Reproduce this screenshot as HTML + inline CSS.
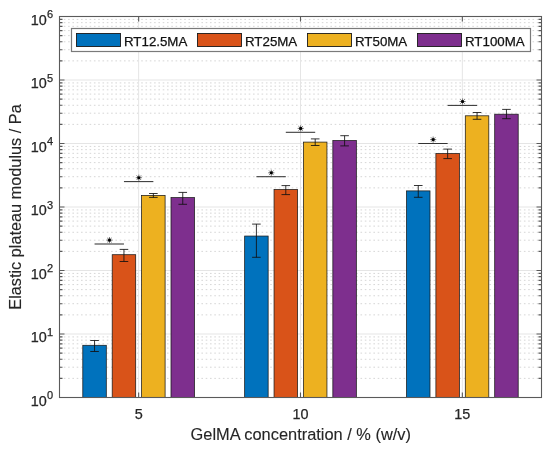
<!DOCTYPE html><html><head><meta charset="utf-8"><style>html,body{margin:0;padding:0;background:#fff;}svg{display:block;will-change:transform;}text{font-family:"Liberation Sans",sans-serif;fill:#262626;stroke:#262626;stroke-width:0.25px;}</style></head><body>
<svg width="550" height="451" viewBox="0 0 550 451">
<rect x="0" y="0" width="550" height="451" fill="#fff"/>
<path d="M59.5 378.38H541.5 M59.5 367.20H541.5 M59.5 359.27H541.5 M59.5 353.12H541.5 M59.5 348.09H541.5 M59.5 343.84H541.5 M59.5 340.15H541.5 M59.5 336.91H541.5 M59.5 314.88H541.5 M59.5 303.70H541.5 M59.5 295.77H541.5 M59.5 289.62H541.5 M59.5 284.59H541.5 M59.5 280.34H541.5 M59.5 276.65H541.5 M59.5 273.41H541.5 M59.5 251.38H541.5 M59.5 240.20H541.5 M59.5 232.27H541.5 M59.5 226.12H541.5 M59.5 221.09H541.5 M59.5 216.84H541.5 M59.5 213.15H541.5 M59.5 209.91H541.5 M59.5 187.88H541.5 M59.5 176.70H541.5 M59.5 168.77H541.5 M59.5 162.62H541.5 M59.5 157.59H541.5 M59.5 153.34H541.5 M59.5 149.65H541.5 M59.5 146.41H541.5 M59.5 124.38H541.5 M59.5 113.20H541.5 M59.5 105.27H541.5 M59.5 99.12H541.5 M59.5 94.09H541.5 M59.5 89.84H541.5 M59.5 86.15H541.5 M59.5 82.91H541.5 M59.5 60.88H541.5 M59.5 49.70H541.5 M59.5 41.77H541.5 M59.5 35.62H541.5 M59.5 30.59H541.5 M59.5 26.34H541.5 M59.5 22.65H541.5 M59.5 19.41H541.5" stroke="#d6d6d6" stroke-width="1" stroke-dasharray="1.6 2.7" fill="none"/>
<path d="M59.5 334.00H541.5 M59.5 270.50H541.5 M59.5 207.00H541.5 M59.5 143.50H541.5 M59.5 80.00H541.5 M138.65 16.5V397.5 M300.50 16.5V397.5 M462.35 16.5V397.5" stroke="#e5e5e5" stroke-width="1" fill="none"/>
<rect x="82.80" y="345.30" width="23.5" height="52.20" fill="#0072BD" stroke="#1a1a1a" stroke-width="0.75"/>
<rect x="112.20" y="254.70" width="23.5" height="142.80" fill="#D95319" stroke="#1a1a1a" stroke-width="0.75"/>
<rect x="141.60" y="195.40" width="23.5" height="202.10" fill="#EDB120" stroke="#1a1a1a" stroke-width="0.75"/>
<rect x="171.00" y="197.60" width="23.5" height="199.90" fill="#7E2F8E" stroke="#1a1a1a" stroke-width="0.75"/>
<rect x="244.65" y="236.05" width="23.5" height="161.45" fill="#0072BD" stroke="#1a1a1a" stroke-width="0.75"/>
<rect x="274.05" y="189.50" width="23.5" height="208.00" fill="#D95319" stroke="#1a1a1a" stroke-width="0.75"/>
<rect x="303.45" y="142.10" width="23.5" height="255.40" fill="#EDB120" stroke="#1a1a1a" stroke-width="0.75"/>
<rect x="332.85" y="140.50" width="23.5" height="257.00" fill="#7E2F8E" stroke="#1a1a1a" stroke-width="0.75"/>
<rect x="406.50" y="190.90" width="23.5" height="206.60" fill="#0072BD" stroke="#1a1a1a" stroke-width="0.75"/>
<rect x="435.90" y="153.50" width="23.5" height="244.00" fill="#D95319" stroke="#1a1a1a" stroke-width="0.75"/>
<rect x="465.30" y="115.80" width="23.5" height="281.70" fill="#EDB120" stroke="#1a1a1a" stroke-width="0.75"/>
<rect x="494.70" y="114.20" width="23.5" height="283.30" fill="#7E2F8E" stroke="#1a1a1a" stroke-width="0.75"/>
<path d="M94.55 340.5V351.5M90.25 340.5H98.85M90.25 351.5H98.85" stroke="#111" stroke-width="0.85" fill="none"/>
<path d="M123.95 249.4V261.5M119.65 249.4H128.25M119.65 261.5H128.25" stroke="#111" stroke-width="0.85" fill="none"/>
<path d="M153.35 193.5V197.4M149.05 193.5H157.65M149.05 197.4H157.65" stroke="#111" stroke-width="0.85" fill="none"/>
<path d="M182.75 192.4V204.3M178.45 192.4H187.05M178.45 204.3H187.05" stroke="#111" stroke-width="0.85" fill="none"/>
<path d="M256.40 224.1V257.3M252.10 224.1H260.70M252.10 257.3H260.70" stroke="#111" stroke-width="0.85" fill="none"/>
<path d="M285.80 185.6V194.6M281.50 185.6H290.10M281.50 194.6H290.10" stroke="#111" stroke-width="0.85" fill="none"/>
<path d="M315.20 138.9V145.5M310.90 138.9H319.50M310.90 145.5H319.50" stroke="#111" stroke-width="0.85" fill="none"/>
<path d="M344.60 135.7V145.9M340.30 135.7H348.90M340.30 145.9H348.90" stroke="#111" stroke-width="0.85" fill="none"/>
<path d="M418.25 185.5V197.3M413.95 185.5H422.55M413.95 197.3H422.55" stroke="#111" stroke-width="0.85" fill="none"/>
<path d="M447.65 149.1V158.6M443.35 149.1H451.95M443.35 158.6H451.95" stroke="#111" stroke-width="0.85" fill="none"/>
<path d="M477.05 112.5V119.3M472.75 112.5H481.35M472.75 119.3H481.35" stroke="#111" stroke-width="0.85" fill="none"/>
<path d="M506.45 109.4V118.7M502.15 109.4H510.75M502.15 118.7H510.75" stroke="#111" stroke-width="0.85" fill="none"/>
<path d="M94.55 244.0H123.95" stroke="#333" stroke-width="1.05" fill="none"/>
<path d="M106.35 240.10H112.55M109.45 237.00V243.20M107.15 237.80L111.75 242.40M107.15 242.40L111.75 237.80" stroke="#333" stroke-width="0.65" fill="none"/><circle cx="109.45" cy="240.10" r="1.55" fill="#000"/>
<path d="M123.95 181.6H153.35" stroke="#333" stroke-width="1.05" fill="none"/>
<path d="M135.75 177.70H141.95M138.85 174.60V180.80M136.55 175.40L141.15 180.00M136.55 180.00L141.15 175.40" stroke="#333" stroke-width="0.65" fill="none"/><circle cx="138.85" cy="177.70" r="1.55" fill="#000"/>
<path d="M256.40 176.7H285.80" stroke="#333" stroke-width="1.05" fill="none"/>
<path d="M268.20 172.80H274.40M271.30 169.70V175.90M269.00 170.50L273.60 175.10M269.00 175.10L273.60 170.50" stroke="#333" stroke-width="0.65" fill="none"/><circle cx="271.30" cy="172.80" r="1.55" fill="#000"/>
<path d="M285.80 132.3H315.20" stroke="#333" stroke-width="1.05" fill="none"/>
<path d="M297.60 128.40H303.80M300.70 125.30V131.50M298.40 126.10L303.00 130.70M298.40 130.70L303.00 126.10" stroke="#333" stroke-width="0.65" fill="none"/><circle cx="300.70" cy="128.40" r="1.55" fill="#000"/>
<path d="M418.25 143.5H447.65" stroke="#333" stroke-width="1.05" fill="none"/>
<path d="M430.05 139.60H436.25M433.15 136.50V142.70M430.85 137.30L435.45 141.90M430.85 141.90L435.45 137.30" stroke="#333" stroke-width="0.65" fill="none"/><circle cx="433.15" cy="139.60" r="1.55" fill="#000"/>
<path d="M447.65 105.4H477.05" stroke="#333" stroke-width="1.05" fill="none"/>
<path d="M459.45 101.50H465.65M462.55 98.40V104.60M460.25 99.20L464.85 103.80M460.25 103.80L464.85 99.20" stroke="#333" stroke-width="0.65" fill="none"/><circle cx="462.55" cy="101.50" r="1.55" fill="#000"/>
<rect x="59.5" y="16.5" width="482.0" height="381.0" fill="none" stroke="#5a5a5a" stroke-width="1.1"/>
<path d="M59.5 397.50h5M541.5 397.50h-5 M59.5 378.38h3M541.5 378.38h-3 M59.5 367.20h3M541.5 367.20h-3 M59.5 359.27h3M541.5 359.27h-3 M59.5 353.12h3M541.5 353.12h-3 M59.5 348.09h3M541.5 348.09h-3 M59.5 343.84h3M541.5 343.84h-3 M59.5 340.15h3M541.5 340.15h-3 M59.5 336.91h3M541.5 336.91h-3 M59.5 334.00h5M541.5 334.00h-5 M59.5 314.88h3M541.5 314.88h-3 M59.5 303.70h3M541.5 303.70h-3 M59.5 295.77h3M541.5 295.77h-3 M59.5 289.62h3M541.5 289.62h-3 M59.5 284.59h3M541.5 284.59h-3 M59.5 280.34h3M541.5 280.34h-3 M59.5 276.65h3M541.5 276.65h-3 M59.5 273.41h3M541.5 273.41h-3 M59.5 270.50h5M541.5 270.50h-5 M59.5 251.38h3M541.5 251.38h-3 M59.5 240.20h3M541.5 240.20h-3 M59.5 232.27h3M541.5 232.27h-3 M59.5 226.12h3M541.5 226.12h-3 M59.5 221.09h3M541.5 221.09h-3 M59.5 216.84h3M541.5 216.84h-3 M59.5 213.15h3M541.5 213.15h-3 M59.5 209.91h3M541.5 209.91h-3 M59.5 207.00h5M541.5 207.00h-5 M59.5 187.88h3M541.5 187.88h-3 M59.5 176.70h3M541.5 176.70h-3 M59.5 168.77h3M541.5 168.77h-3 M59.5 162.62h3M541.5 162.62h-3 M59.5 157.59h3M541.5 157.59h-3 M59.5 153.34h3M541.5 153.34h-3 M59.5 149.65h3M541.5 149.65h-3 M59.5 146.41h3M541.5 146.41h-3 M59.5 143.50h5M541.5 143.50h-5 M59.5 124.38h3M541.5 124.38h-3 M59.5 113.20h3M541.5 113.20h-3 M59.5 105.27h3M541.5 105.27h-3 M59.5 99.12h3M541.5 99.12h-3 M59.5 94.09h3M541.5 94.09h-3 M59.5 89.84h3M541.5 89.84h-3 M59.5 86.15h3M541.5 86.15h-3 M59.5 82.91h3M541.5 82.91h-3 M59.5 80.00h5M541.5 80.00h-5 M59.5 60.88h3M541.5 60.88h-3 M59.5 49.70h3M541.5 49.70h-3 M59.5 41.77h3M541.5 41.77h-3 M59.5 35.62h3M541.5 35.62h-3 M59.5 30.59h3M541.5 30.59h-3 M59.5 26.34h3M541.5 26.34h-3 M59.5 22.65h3M541.5 22.65h-3 M59.5 19.41h3M541.5 19.41h-3 M59.5 16.50h5M541.5 16.50h-5 M138.65 397.5v-5M138.65 16.5v5 M300.50 397.5v-5M300.50 16.5v5 M462.35 397.5v-5M462.35 16.5v5" stroke="#5a5a5a" stroke-width="1.1" fill="none"/>
<text x="53" y="405.50" text-anchor="end" font-size="14.4">10<tspan font-size="11" dy="-6.3">0</tspan></text>
<text x="53" y="342.00" text-anchor="end" font-size="14.4">10<tspan font-size="11" dy="-6.3">1</tspan></text>
<text x="53" y="278.50" text-anchor="end" font-size="14.4">10<tspan font-size="11" dy="-6.3">2</tspan></text>
<text x="53" y="215.00" text-anchor="end" font-size="14.4">10<tspan font-size="11" dy="-6.3">3</tspan></text>
<text x="53" y="151.50" text-anchor="end" font-size="14.4">10<tspan font-size="11" dy="-6.3">4</tspan></text>
<text x="53" y="88.00" text-anchor="end" font-size="14.4">10<tspan font-size="11" dy="-6.3">5</tspan></text>
<text x="53" y="24.50" text-anchor="end" font-size="14.4">10<tspan font-size="11" dy="-6.3">6</tspan></text>
<text x="138.65" y="418.6" text-anchor="middle" font-size="14.4">5</text>
<text x="300.50" y="418.6" text-anchor="middle" font-size="14.4">10</text>
<text x="462.35" y="418.6" text-anchor="middle" font-size="14.4">15</text>
<text x="300.8" y="440.3" text-anchor="middle" font-size="16.4" style="stroke-width:0.12px">GelMA concentration / % (w/v)</text>
<text transform="translate(21,207) rotate(-90)" x="0" y="0" text-anchor="middle" font-size="16.3" style="stroke-width:0.12px">Elastic plateau modulus / Pa</text>
<rect x="71.5" y="28.5" width="459" height="23" fill="#fff" stroke="#7a7a7a" stroke-width="1.2"/>
<rect x="76.5" y="33.5" width="44" height="13" fill="#0072BD" stroke="#1a1a1a" stroke-width="0.9"/>
<text x="124" y="45.7" font-size="13.3" style="fill:#111;stroke:#111">RT12.5MA</text>
<rect x="197.5" y="33.5" width="44" height="13" fill="#D95319" stroke="#1a1a1a" stroke-width="0.9"/>
<text x="245" y="45.7" font-size="13.3" style="fill:#111;stroke:#111">RT25MA</text>
<rect x="307.5" y="33.5" width="44" height="13" fill="#EDB120" stroke="#1a1a1a" stroke-width="0.9"/>
<text x="355" y="45.7" font-size="13.3" style="fill:#111;stroke:#111">RT50MA</text>
<rect x="417.5" y="33.5" width="44" height="13" fill="#7E2F8E" stroke="#1a1a1a" stroke-width="0.9"/>
<text x="465" y="45.7" font-size="13.3" style="fill:#111;stroke:#111">RT100MA</text>
</svg></body></html>
